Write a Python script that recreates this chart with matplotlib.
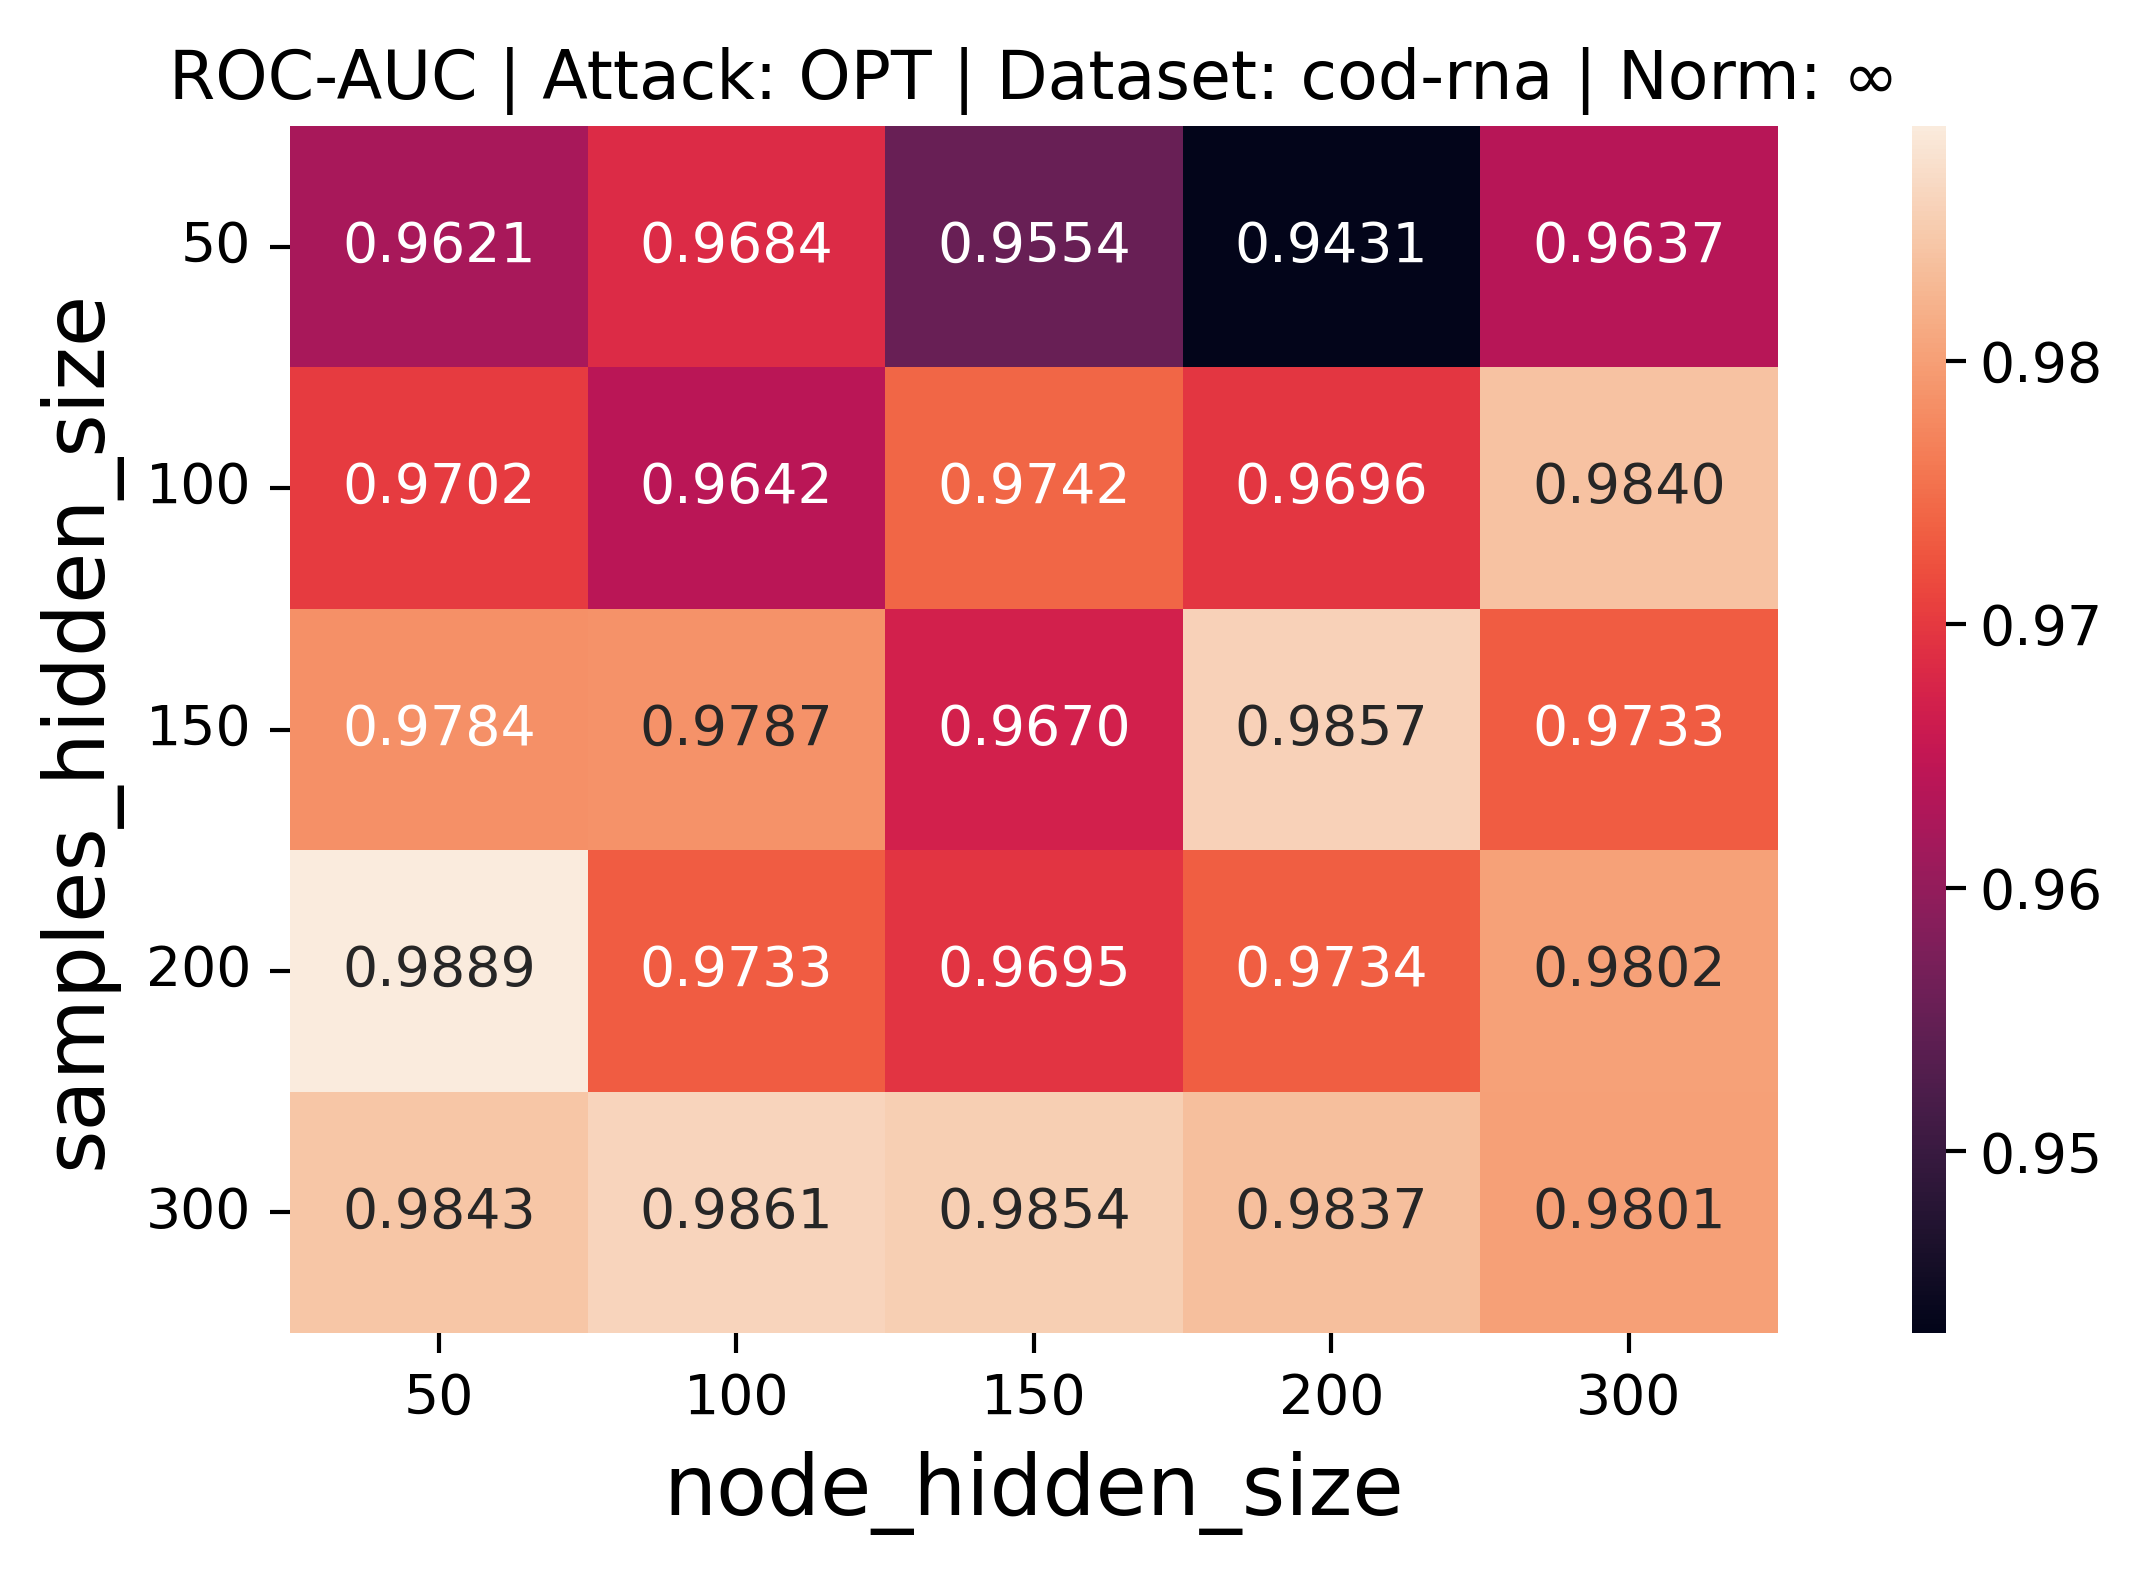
import matplotlib
matplotlib.use("Agg")
import matplotlib.pyplot as plt
import numpy as np
import seaborn as sns

node_sizes = [50, 100, 150, 200, 300]
sample_sizes = [50, 100, 150, 200, 300]

row_50 = [0.9621, 0.9684, 0.9554, 0.9431, 0.9637]
row_100 = [0.9702, 0.9642, 0.9742, 0.9696, 0.9840]
row_150 = [0.9784, 0.9787, 0.9670, 0.9857, 0.9733]
row_200 = [0.9889, 0.9733, 0.9695, 0.9734, 0.9802]
row_300 = [0.9843, 0.9861, 0.9854, 0.9837, 0.9801]

values = np.array([row_50, row_100, row_150, row_200, row_300])

fig = plt.figure(figsize=(2134 / 300, 1574 / 300), dpi=300)
ax = fig.add_axes([0.136, 0.153, 0.697, 0.767])
cax = fig.add_axes([0.896, 0.153, 0.016, 0.767])

sns.heatmap(values, ax=ax, cbar_ax=cax, cmap="rocket", annot=True, fmt=".4f",
            annot_kws={"fontsize": 13.3},
            xticklabels=node_sizes, yticklabels=sample_sizes)

ax.set_xlabel("node_hidden_size", fontsize=20, labelpad=6)
ax.set_ylabel("samples_hidden_size", fontsize=20, labelpad=6)
ax.set_title("ROC-AUC | Attack: OPT | Dataset: cod-rna | Norm: \u221e", fontsize=16, pad=6.5)
ax.tick_params(labelsize=13.3, length=4.8, width=1.0, pad=4.5)
ax.set_yticklabels(sample_sizes, rotation=0)
cax.tick_params(labelsize=13.3, length=4.8, width=1.0, pad=3.2)

fig.savefig("out.png", dpi=300)
